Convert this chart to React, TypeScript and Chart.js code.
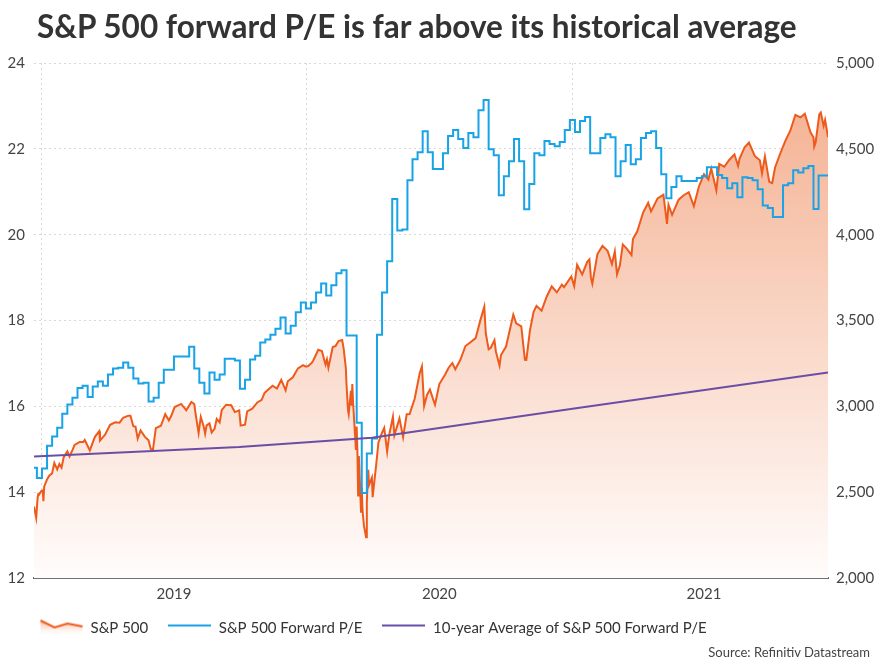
import React, { useEffect, useRef } from 'react';
import { Chart, registerables } from 'chart.js';

Chart.register(...registerables);

const chartTitle = 'S&P 500 forward P/E is far above its historical average';
const sourceText = 'Source: Refinitiv Datastream';
const seriesNames = ['S&P 500', 'S&P 500 Forward P/E', '10-year Average of S&P 500 Forward P/E'];
const xRange = ['2018-12-21', '2021-12-20'];
const yearLabels = ['2019', '2020', '2021'];
const leftTicks = [12, 14, 16, 18, 20, 22, 24];
const rightTicks = [2000, 2500, 3000, 3500, 4000, 4500, 5000];

// S&P 500 closes (date, index level)
const spx: [string, number][] = [
  ['2018-12-21', 2416.6], ['2018-12-24', 2351.1], ['2018-12-26', 2467.7], ['2018-12-27', 2488.8],
  ['2018-12-28', 2485.7], ['2018-12-31', 2506.9], ['2019-01-02', 2510.0], ['2019-01-03', 2447.9],
  ['2019-01-04', 2531.9], ['2019-01-08', 2574.4], ['2019-01-11', 2596.3], ['2019-01-15', 2610.3],
  ['2019-01-18', 2670.7], ['2019-01-22', 2632.9], ['2019-01-25', 2664.8], ['2019-01-28', 2643.9],
  ['2019-01-31', 2704.1], ['2019-02-05', 2737.7], ['2019-02-08', 2707.9], ['2019-02-12', 2744.7],
  ['2019-02-15', 2775.6], ['2019-02-22', 2792.7], ['2019-02-27', 2792.4], ['2019-03-01', 2803.7],
  ['2019-03-08', 2743.1], ['2019-03-15', 2822.5], ['2019-03-21', 2854.9], ['2019-03-22', 2800.7],
  ['2019-03-29', 2834.4], ['2019-04-05', 2892.7], ['2019-04-12', 2907.4], ['2019-04-18', 2905.0],
  ['2019-04-23', 2933.7], ['2019-04-30', 2945.8], ['2019-05-03', 2945.6], ['2019-05-07', 2884.1],
  ['2019-05-10', 2881.4], ['2019-05-13', 2811.9], ['2019-05-17', 2859.5], ['2019-05-23', 2822.2],
  ['2019-05-28', 2802.4], ['2019-05-31', 2752.1], ['2019-06-03', 2744.5], ['2019-06-07', 2873.3],
  ['2019-06-14', 2887.0], ['2019-06-20', 2954.2], ['2019-06-25', 2917.4], ['2019-06-28', 2941.8],
  ['2019-07-03', 2995.8], ['2019-07-12', 3013.8], ['2019-07-19', 2976.6], ['2019-07-26', 3025.9],
  ['2019-07-30', 3013.2], ['2019-08-01', 2953.6], ['2019-08-05', 2844.7], ['2019-08-08', 2938.1],
  ['2019-08-12', 2883.1], ['2019-08-14', 2840.6], ['2019-08-16', 2888.7], ['2019-08-20', 2900.5],
  ['2019-08-23', 2847.1], ['2019-08-27', 2869.2], ['2019-08-30', 2926.5], ['2019-09-03', 2906.3],
  ['2019-09-06', 2978.7], ['2019-09-12', 3009.6], ['2019-09-19', 3006.8], ['2019-09-24', 2966.6],
  ['2019-09-30', 2976.7], ['2019-10-02', 2887.6], ['2019-10-08', 2893.1], ['2019-10-11', 2970.3],
  ['2019-10-18', 2986.2], ['2019-10-25', 3022.6], ['2019-10-31', 3037.6], ['2019-11-04', 3078.3],
  ['2019-11-08', 3093.1], ['2019-11-15', 3120.5], ['2019-11-21', 3103.5], ['2019-11-27', 3153.6],
  ['2019-12-03', 3093.2], ['2019-12-06', 3145.9], ['2019-12-13', 3168.8], ['2019-12-20', 3221.2],
  ['2019-12-27', 3240.0], ['2019-12-31', 3230.8], ['2020-01-03', 3234.9], ['2020-01-08', 3253.1],
  ['2020-01-10', 3265.4], ['2020-01-17', 3329.6], ['2020-01-22', 3321.8], ['2020-01-27', 3243.6],
  ['2020-01-29', 3273.4], ['2020-01-31', 3225.5], ['2020-02-06', 3345.8], ['2020-02-10', 3352.1],
  ['2020-02-14', 3380.2], ['2020-02-19', 3386.2], ['2020-02-21', 3337.8], ['2020-02-24', 3225.9],
  ['2020-02-25', 3128.2], ['2020-02-27', 2978.8], ['2020-02-28', 2954.2], ['2020-03-02', 3090.2],
  ['2020-03-03', 3003.4], ['2020-03-04', 3130.1], ['2020-03-05', 3023.9], ['2020-03-09', 2746.6],
  ['2020-03-10', 2882.2], ['2020-03-11', 2741.4], ['2020-03-12', 2480.6], ['2020-03-13', 2711.0],
  ['2020-03-16', 2386.1], ['2020-03-17', 2529.2], ['2020-03-18', 2398.1], ['2020-03-20', 2304.9],
  ['2020-03-23', 2237.4], ['2020-03-24', 2447.3], ['2020-03-26', 2630.1], ['2020-03-27', 2541.5],
  ['2020-03-31', 2584.6], ['2020-04-01', 2470.5], ['2020-04-06', 2663.7], ['2020-04-09', 2789.8],
  ['2020-04-14', 2846.1], ['2020-04-17', 2874.6], ['2020-04-21', 2736.6], ['2020-04-24', 2836.7],
  ['2020-04-29', 2939.5], ['2020-05-01', 2830.7], ['2020-05-08', 2929.8], ['2020-05-13', 2820.0],
  ['2020-05-18', 2953.9], ['2020-05-22', 2955.5], ['2020-05-29', 3044.3], ['2020-06-05', 3193.9],
  ['2020-06-08', 3232.4], ['2020-06-11', 3002.1], ['2020-06-15', 3066.6], ['2020-06-19', 3097.7],
  ['2020-06-26', 3009.1], ['2020-07-02', 3130.0], ['2020-07-10', 3185.0], ['2020-07-15', 3226.6],
  ['2020-07-20', 3251.8], ['2020-07-24', 3215.6], ['2020-07-31', 3271.1], ['2020-08-07', 3351.3],
  ['2020-08-14', 3372.9], ['2020-08-21', 3397.2], ['2020-08-28', 3508.0], ['2020-09-02', 3580.8],
  ['2020-09-04', 3427.0], ['2020-09-08', 3331.8], ['2020-09-11', 3341.0], ['2020-09-16', 3385.5],
  ['2020-09-18', 3319.5], ['2020-09-23', 3236.9], ['2020-09-25', 3298.5], ['2020-10-02', 3348.4],
  ['2020-10-12', 3534.2], ['2020-10-16', 3483.8], ['2020-10-23', 3465.4], ['2020-10-28', 3271.0],
  ['2020-10-30', 3270.0], ['2020-11-04', 3443.4], ['2020-11-09', 3550.5], ['2020-11-13', 3585.2],
  ['2020-11-20', 3557.5], ['2020-11-27', 3638.4], ['2020-12-04', 3699.1], ['2020-12-11', 3663.5],
  ['2020-12-18', 3709.4], ['2020-12-21', 3694.9], ['2020-12-31', 3756.1], ['2021-01-04', 3700.7],
  ['2021-01-08', 3824.7], ['2021-01-15', 3768.3], ['2021-01-22', 3841.5], ['2021-01-25', 3855.4],
  ['2021-01-27', 3750.8], ['2021-01-29', 3714.2], ['2021-02-05', 3886.8], ['2021-02-12', 3934.8],
  ['2021-02-19', 3906.7], ['2021-02-25', 3829.3], ['2021-03-01', 3901.8], ['2021-03-04', 3768.5],
  ['2021-03-08', 3821.4], ['2021-03-12', 3943.3], ['2021-03-18', 3915.5], ['2021-03-24', 3881.4],
  ['2021-03-26', 3974.5], ['2021-04-01', 4019.9], ['2021-04-09', 4128.8], ['2021-04-16', 4185.5],
  ['2021-04-20', 4134.9], ['2021-04-29', 4211.5], ['2021-05-07', 4232.6], ['2021-05-12', 4063.0],
  ['2021-05-14', 4173.9], ['2021-05-19', 4115.7], ['2021-05-28', 4204.1], ['2021-06-04', 4229.9],
  ['2021-06-11', 4247.4], ['2021-06-18', 4166.5], ['2021-06-25', 4280.7], ['2021-07-02', 4352.3],
  ['2021-07-08', 4320.8], ['2021-07-12', 4384.6], ['2021-07-19', 4258.5], ['2021-07-23', 4411.8],
  ['2021-07-30', 4395.3], ['2021-08-06', 4436.5], ['2021-08-13', 4468.0], ['2021-08-18', 4400.3],
  ['2021-08-20', 4441.7], ['2021-08-27', 4509.4], ['2021-09-02', 4537.0], ['2021-09-10', 4458.6],
  ['2021-09-17', 4433.0], ['2021-09-20', 4357.7], ['2021-09-24', 4455.5], ['2021-09-30', 4307.5],
  ['2021-10-04', 4300.5], ['2021-10-08', 4391.3], ['2021-10-15', 4471.4], ['2021-10-22', 4544.9],
  ['2021-10-29', 4605.4], ['2021-11-05', 4697.5], ['2021-11-12', 4682.9], ['2021-11-18', 4704.5],
  ['2021-11-26', 4594.6], ['2021-11-30', 4567.0], ['2021-12-01', 4513.0], ['2021-12-03', 4538.4],
  ['2021-12-08', 4701.2], ['2021-12-10', 4712.0], ['2021-12-14', 4634.1], ['2021-12-16', 4668.7],
  ['2021-12-20', 4568.0],
];

// Weekly forward P/E readings, first week starting on peStart
const peStart = '2018-12-18';
const peValues: number[] = [
  14.57, 14.33, 14.55, 15.08, 15.3, 15.5, 15.83, 16.04, 16.2, 16.43,
  16.48, 16.22, 16.46, 16.58, 16.48, 16.74, 16.88, 16.9, 17.02, 16.9,
  16.65, 16.53, 16.55, 16.11, 16.2, 16.55, 16.85, 16.85, 17.16, 17.16,
  17.16, 17.39, 16.88, 16.55, 16.3, 16.79, 16.62, 16.74, 17.11, 17.11,
  17.07, 16.41, 16.62, 17.09, 17.18, 17.49, 17.56, 17.67, 17.81, 18.07,
  17.7, 17.88, 18.19, 18.42, 18.28, 18.42, 18.65, 18.86, 18.58, 18.82,
  19.1, 19.17, 17.65, 17.65, 15.62, 13.98, 14.9, 15.25, 17.67, 18.65,
  19.38, 20.83, 20.1, 20.12, 21.27, 21.76, 21.92, 22.41, 21.92, 21.53,
  21.53, 21.9, 22.3, 22.44, 22.23, 22.02, 22.37, 22.27, 22.9, 23.14,
  21.99, 21.85, 20.92, 21.36, 21.71, 22.23, 21.71, 20.59, 21.18, 21.9,
  21.85, 22.18, 22.11, 22.06, 22.16, 22.44, 22.67, 22.39, 22.65, 22.74,
  21.9, 21.9, 22.25, 22.34, 22.27, 21.36, 21.71, 22.09, 21.64, 21.76,
  22.25, 22.37, 22.41, 22.02, 21.41, 20.85, 21.11, 21.36, 21.25, 21.25,
  21.25, 21.32, 21.36, 21.57, 21.57, 21.39, 21.32, 21.08, 21.2, 20.87,
  21.34, 21.32, 21.27, 21.06, 20.68, 20.62, 20.41, 20.41, 21.15, 21.2,
  21.5, 21.45, 21.55, 21.6, 20.6, 21.38, 21.38,
];

// 10-year average of forward P/E
const avgPE: [string, number][] = [
  ['2018-12-21', 14.83], ['2019-09-30', 15.05], ['2020-03-31', 15.27],
  ['2021-01-04', 15.95], ['2021-12-20', 16.79],
];

const DAY = 86400000;
const day = (s: string) => {
  const [y, m, d] = s.split('-').map(Number);
  return (Date.UTC(y, m - 1, d) - Date.UTC(2019, 0, 1)) / DAY;
};

const ORANGE = '#ee5a1b';
const BLUE = '#18a3e6';
const PURPLE = '#6a4ea6';
const FONT = 'Lato, "Open Sans", sans-serif';

function makeIcon(kind: 'area' | 'line', color: string): HTMLCanvasElement {
  const c = document.createElement('canvas');
  const ctx = c.getContext('2d')!;
  if (kind === 'area') {
    c.width = 44; c.height = 22;
    const pts: [number, number][] = [[1, 3], [15, 10], [28, 6], [43, 9]];
    const g = ctx.createLinearGradient(0, 3, 0, 18);
    g.addColorStop(0, 'rgba(242,150,110,0.75)');
    g.addColorStop(1, 'rgba(255,240,232,0)');
    ctx.beginPath();
    ctx.moveTo(pts[0][0], pts[0][1]);
    pts.slice(1).forEach(p => ctx.lineTo(p[0], p[1]));
    ctx.lineTo(43, 18); ctx.lineTo(1, 18); ctx.closePath();
    ctx.fillStyle = g; ctx.fill();
    ctx.beginPath();
    ctx.moveTo(pts[0][0], pts[0][1]);
    pts.slice(1).forEach(p => ctx.lineTo(p[0], p[1]));
    ctx.strokeStyle = color; ctx.lineWidth = 2; ctx.stroke();
  } else {
    c.width = 43; c.height = 10;
    ctx.fillStyle = color;
    ctx.fillRect(0, 1, 43, 2);
  }
  return c;
}

// moves the legend row to sit under the plot like the original
const legendShift = {
  id: 'legendShift',
  afterLayout(chart: any) {
    const l = chart.legend;
    if (!l) return;
    l.left += 20; l.right += 20;
    l.top -= 9; l.bottom -= 9;
  },
};

export default function App() {
  const ref = useRef<HTMLCanvasElement>(null);

  useEffect(() => {
    document.body.style.margin = '0';
    const canvas = ref.current;
    if (!canvas) return;
    const xMin = day(xRange[0]);
    const xMax = day(xRange[1]);
    const yearStarts = yearLabels.map(y => day(`${y}-01-01`));
    const yearMids = yearLabels.map(y => day(`${y}-07-02`));
    const start = day(peStart);
    const pePoints = peValues.map((v, i) => ({ x: start + 7 * i, y: v }));
    pePoints.push({ x: xMax, y: peValues[peValues.length - 1] });

    const icons = [makeIcon('area', ORANGE), makeIcon('line', BLUE), makeIcon('line', PURPLE)];

    const chart = new Chart(canvas, {
      type: 'line',
      plugins: [legendShift],
      data: {
        datasets: [
          {
            label: seriesNames[0],
            data: spx.map(([d, v]) => ({ x: day(d), y: v })),
            yAxisID: 'y1',
            xAxisID: 'x',
            borderColor: ORANGE,
            borderWidth: 2,
            pointRadius: 0,
            fill: 'start',
            order: 3,
            backgroundColor: (c: any) => {
              const area = c.chart.chartArea;
              if (!area) return 'rgba(245,180,150,0.5)';
              const g = c.chart.ctx.createLinearGradient(0, area.top, 0, area.bottom);
              g.addColorStop(0, '#f4ac8b');
              g.addColorStop(0.5, '#f9d5c4');
              g.addColorStop(1, '#fffcfb');
              return g;
            },
          },
          {
            label: seriesNames[1],
            data: pePoints,
            yAxisID: 'y',
            xAxisID: 'x',
            borderColor: BLUE,
            borderWidth: 2,
            pointRadius: 0,
            stepped: true,
            fill: false,
            order: 2,
          },
          {
            label: seriesNames[2],
            data: avgPE.map(([d, v]) => ({ x: day(d), y: v })),
            yAxisID: 'y',
            xAxisID: 'x',
            borderColor: PURPLE,
            borderWidth: 2,
            pointRadius: 0,
            fill: false,
            order: 1,
          },
        ],
      },
      options: {
        animation: false,
        responsive: false,
        events: [],
        layout: { padding: { top: 63, left: 0, right: 0, bottom: 8 } },
        font: { family: FONT },
        scales: {
          x: {
            type: 'linear',
            position: 'bottom',
            min: xMin,
            max: xMax,
            afterBuildTicks: (s: any) => { s.ticks = yearStarts.map(v => ({ value: v })); },
            ticks: { display: false },
            grid: { display: true, color: '#d8d8d8', drawTicks: false, lineWidth: 1 },
            border: { display: true, color: '#707070', width: 2, dash: [2, 3] },
          },
          x2: {
            type: 'linear',
            position: 'bottom',
            weight: 1,
            min: xMin,
            max: xMax,
            afterBuildTicks: (s: any) => { s.ticks = yearMids.map(v => ({ value: v })); },
            ticks: {
              padding: 7,
              autoSkip: false,
              maxRotation: 0,
              color: '#444',
              font: { family: FONT, size: 15 },
              callback: (_v: any, i: number) => yearLabels[i],
            },
            grid: { display: false, drawTicks: false },
            border: { display: false },
          },
          y: {
            type: 'linear',
            position: 'left',
            min: leftTicks[0],
            max: leftTicks[leftTicks.length - 1],
            ticks: {
              stepSize: leftTicks[1] - leftTicks[0],
              padding: 9,
              color: '#444',
              font: { family: FONT, size: 15 },
            },
            grid: { color: '#d8d8d8', drawTicks: false, lineWidth: 1 },
            border: { display: false, dash: [2, 3] },
            afterFit: (s: any) => { s.width = 34; },
          },
          y1: {
            type: 'linear',
            position: 'right',
            min: rightTicks[0],
            max: rightTicks[rightTicks.length - 1],
            ticks: {
              stepSize: rightTicks[1] - rightTicks[0],
              padding: 8,
              color: '#444',
              font: { family: FONT, size: 15 },
              callback: (v: any) => Number(v).toLocaleString('en-US'),
            },
            grid: { display: false, drawTicks: false },
            border: { display: false },
            afterFit: (s: any) => { s.width = 56; },
          },
        },
        plugins: {
          title: { display: false },
          tooltip: { enabled: false },
          legend: {
            display: true,
            position: 'bottom',
            align: 'start',
            labels: {
              usePointStyle: true,
              pointStyleWidth: 43,
              padding: 20,
              color: '#333',
              font: { family: FONT, size: 15 },
              generateLabels: () => seriesNames.map((name, i) => ({
                text: name,
                pointStyle: icons[i] as any,
                fillStyle: 'transparent',
                strokeStyle: 'transparent',
                lineWidth: 0,
                hidden: false,
                datasetIndex: i,
                fontColor: '#333',
              })),
            },
          },
        },
      } as any,
    });
    return () => chart.destroy();
  }, []);

  return (
    <div style={{ position: 'relative', width: 884, height: 663, fontFamily: FONT }}>
      <canvas ref={ref} width={884} height={663} style={{ display: 'block', width: 884, height: 663 }} />
      <div style={{ position: 'absolute', left: 37, top: 6, fontSize: 31.5, fontWeight: 700, color: '#333', whiteSpace: 'nowrap', lineHeight: '40px' }}>
        {chartTitle}
      </div>
      <div style={{ position: 'absolute', right: 14, top: 643, fontSize: 13, color: '#444', whiteSpace: 'nowrap', lineHeight: '18px' }}>
        {sourceText}
      </div>
    </div>
  );
}
